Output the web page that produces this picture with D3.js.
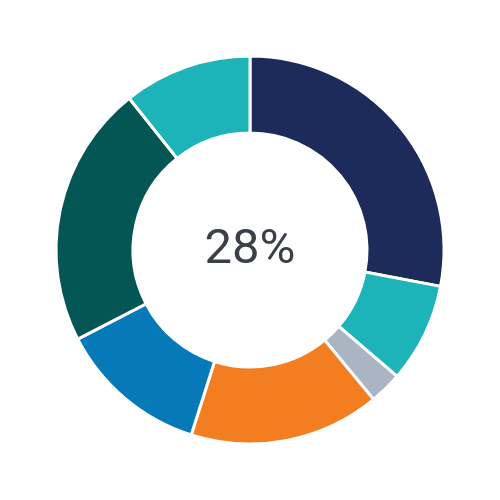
<!DOCTYPE html>
<html>
<head>
<meta charset="utf-8">
<script src="https://cdn.jsdelivr.net/npm/d3@7"></script>
<style>
  html, body { margin: 0; padding: 0; background: #fff; }
</style>
</head>
<body>
<div id="chart"></div>
<script>
// slice shares, clockwise from 12 o'clock
const categories = ["A", "B", "C", "D", "E", "F", "G"];
const values = [28, 8.3, 2.7, 15.9, 12.5, 21.9, 10.7];
const colors = ["#1c2b5a", "#1cb4b8", "#aab4c2", "#f37e21", "#0679b9", "#035654", "#1cb4b8"];
const centerLabel = "28%";

const width = 500, height = 500;
const cx = 250, cy = 250;
const outerR = 194, innerR = 117;

let svg = d3.select("#chart").append("svg")
    .attr("width", width)
    .attr("height", height);

let g = svg.append("g").attr("transform", "translate(" + cx + "," + cy + ")");

let pie = d3.pie().sort(null).value((d) => d);
let arc = d3.arc().innerRadius(innerR).outerRadius(outerR);

g.selectAll("path")
    .data(pie(values))
    .join("path")
    .attr("d", arc)
    .style("fill", (d, i) => colors[i])
    .style("stroke", "#ffffff")
    .style("stroke-width", 3);

// center label, nudged up a little like the original
g.append("text")
    .attr("x", 0)
    .attr("y", -4)
    .attr("dy", "0.35em")
    .attr("text-anchor", "middle")
    .style("font-family", "Roboto, 'Open Sans', sans-serif")
    .style("font-size", "49px")
    .style("fill", "#3a3f48")
    .text(centerLabel);
</script>
</body>
</html>
